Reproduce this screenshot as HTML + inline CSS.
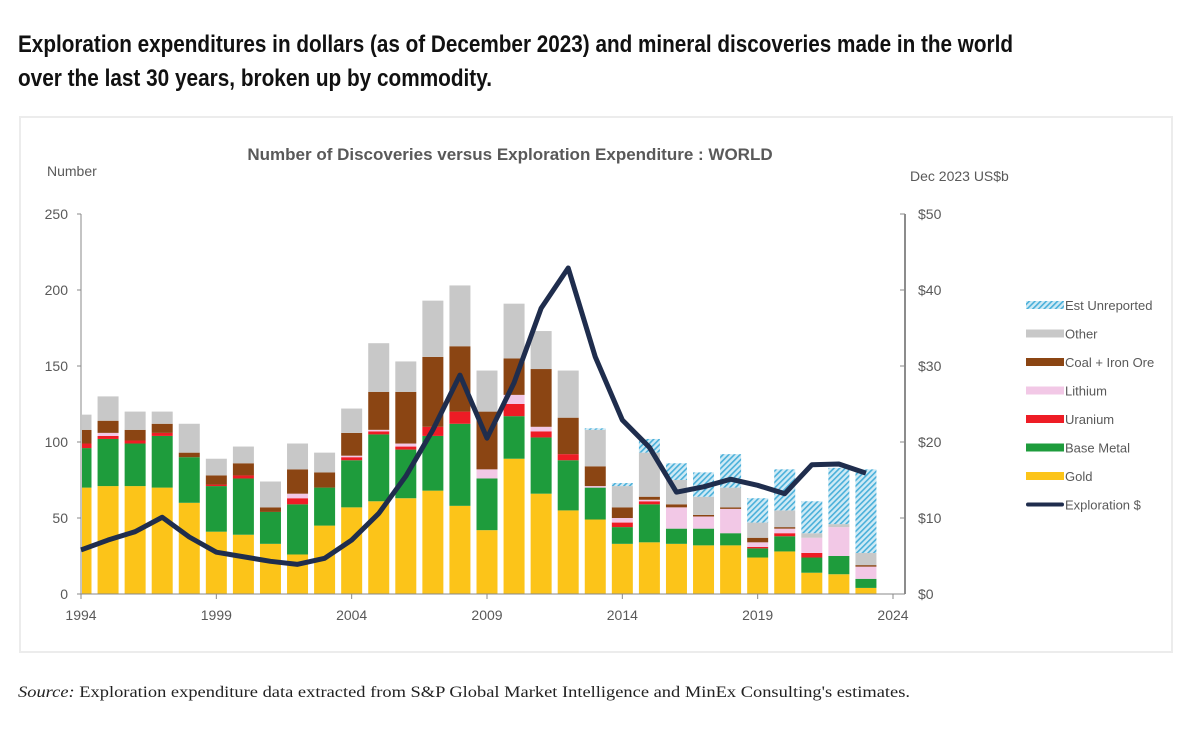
<!DOCTYPE html>
<html><head><meta charset="utf-8"><style>
html,body{margin:0;padding:0;background:#fff;width:1200px;height:735px;overflow:hidden}
svg{display:block}
</style></head><body>
<svg id="chart" width="1200" height="735" xmlns="http://www.w3.org/2000/svg">
<defs>
<pattern id="hatch" width="4" height="4" patternUnits="userSpaceOnUse" patternTransform="rotate(45)">
<rect width="4" height="4" fill="#cfeaf5"/><rect width="1.6" height="4" fill="#4ab0da"/>
</pattern>
</defs>
<text x="18" y="52" font-family="'Liberation Sans Narrow','Liberation Sans',sans-serif" font-weight="bold" font-size="24" textLength="995" lengthAdjust="spacingAndGlyphs" fill="#111">Exploration expenditures in dollars (as of December 2023) and mineral discoveries made in the world</text>
<text x="18" y="86" font-family="'Liberation Sans Narrow','Liberation Sans',sans-serif" font-weight="bold" font-size="24" textLength="474" lengthAdjust="spacingAndGlyphs" fill="#111">over the last 30 years, broken up by commodity.</text>
<rect x="20" y="117" width="1152" height="535" fill="#fff" stroke="#ececec" stroke-width="2"/>
<text x="510" y="160" text-anchor="middle" font-family="'Liberation Sans',sans-serif" font-weight="bold" font-size="17" fill="#595959">Number of Discoveries versus Exploration Expenditure : WORLD</text>
<text x="47" y="176" font-family="'Liberation Sans',sans-serif" font-size="14" fill="#595959">Number</text>
<text x="910" y="181" font-family="'Liberation Sans',sans-serif" font-size="14" fill="#595959">Dec 2023 US$b</text>
<text x="18" y="697" font-family="'Liberation Serif',serif" font-size="16" fill="#222" textLength="892" lengthAdjust="spacingAndGlyphs"><tspan font-style="italic">Source:</tspan> Exploration expenditure data extracted from S&amp;P Global Market Intelligence and MinEx Consulting's estimates.</text>
<g id="plot"></g>
<g id="legend"></g>
</svg>
<script>
const years=[1994,1995,1996,1997,1998,1999,2000,2001,2002,2003,2004,2005,2006,2007,2008,2009,2010,2011,2012,2013,2014,2015,2016,2017,2018,2019,2020,2021,2022,2023];
const gold=[70,71,71,70,60,41,39,33,26,45,57,61,63,68,58,42,89,66,55,49,33,34,33,32,32,24,28,14,13,4];
const baseMetal=[26,31,28,34,30,30,37,21,33,25,31,44,32,36,54,34,28,37,33,21,11,25,10,11,8,6,10,10,12,6];
const uranium=[3,2,2,2,0,1,2,0,4,0,2,2,2,6,8,0,8,4,4,0,3,2,0,0,0,1,2,3,0,0];
const lithium=[0,2,0,0,0,0,0,0,3,0,1,1,2,0,0,6,6,3,0,1,3,1,14,8,16,3,3,10,19,8];
const coalIron=[9,8,7,6,3,6,8,3,16,10,15,25,34,46,43,38,24,38,24,13,7,2,2,1,1,3,1,0,0,1];
const other=[10,16,12,8,19,11,11,17,17,13,16,32,20,37,40,27,36,25,31,24,14,29,16,12,13,10,11,3,2,8];
const estUnreported=[0,0,0,0,0,0,0,0,0,0,0,0,0,0,0,0,0,0,0,1,2,9,11,16,22,16,27,21,37,55];
const exploration=[5.8,7.1,8.2,10.1,7.5,5.5,4.9,4.3,3.9,4.7,7.1,10.6,15.5,21.6,28.8,20.5,27.8,37.6,42.9,31.2,22.9,19.3,13.4,14.1,15.1,14.3,13.2,17.0,17.1,15.9];
const leftTicks=[0,50,100,150,200,250];
const rightTicks=[0,10,20,30,40,50];
const xTicks=[1994,1999,2004,2009,2014,2019,2024];

const NS='http://www.w3.org/2000/svg';
const X0=81,X1=893,Y0=594,Y1=214;
const xs=y=>X0+(y-1994)*(X1-X0)/30;
const yl=v=>Y0-v*(Y0-Y1)/250;
const yr=v=>Y0-v*(Y0-Y1)/50;
const plot=document.getElementById('plot');
function mk(t,a,p){const e=document.createElementNS(NS,t);for(const k in a)e.setAttribute(k,a[k]);(p||plot).appendChild(e);return e;}

const series=[
 ['gold',gold,'#fcc419'],['base-metal',baseMetal,'#1e9c3c'],['uranium',uranium,'#ee1c25'],
 ['lithium',lithium,'#f2c8e6'],['coal-iron-ore',coalIron,'#8b4513'],['other',other,'#c8c8c8'],['est-unreported',estUnreported,'url(#hatch)']];
const bw=21;
years.forEach((yr_,i)=>{
 let acc=0;
 series.forEach(s=>{
  const v=s[1][i]; if(!v) return;
  let x=xs(yr_)-bw/2, w=bw;
  if(x<X0+1){w-= (X0+1-x); x=X0+1;}
  const r=mk('rect',{x:x,y:yl(acc+v),width:w,height:yl(acc)-yl(acc+v),fill:s[2]});
  
  
  acc+=v;
 });
});
let a=mk('line',{x1:X0,y1:Y1,x2:X0,y2:Y0,stroke:'#888','stroke-width':1});


a=mk('line',{x1:905,y1:Y1,x2:905,y2:Y0,stroke:'#666','stroke-width':1.5});


a=mk('line',{x1:X0,y1:Y0,x2:905,y2:Y0,stroke:'#888','stroke-width':1});


leftTicks.forEach(v=>{
 mk('line',{x1:X0-4,y1:yl(v),x2:X0,y2:yl(v),stroke:'#888'});
 const t=mk('text',{x:68,y:yl(v)+5,'text-anchor':'end','font-family':'Liberation Sans,sans-serif','font-size':14,fill:'#595959'});
 t.textContent=v;
 
 
});
rightTicks.forEach(v=>{
 mk('line',{x1:900,y1:yr(v),x2:905,y2:yr(v),stroke:'#888'});
 const t=mk('text',{x:918,y:yr(v)+5,'font-family':'Liberation Sans,sans-serif','font-size':14,fill:'#595959'});
 t.textContent='$'+v;
 
 
});
xTicks.forEach(v=>{
 mk('line',{x1:xs(v),y1:Y0,x2:xs(v),y2:Y0+5,stroke:'#888'});
 const t=mk('text',{x:xs(v),y:620,'text-anchor':'middle','font-family':'Liberation Sans,sans-serif','font-size':14,fill:'#595959'});
 t.textContent=v;
 
 
});
const ln=mk('polyline',{points:years.map((y,i)=>xs(y)+','+yr(exploration[i])).join(' '),fill:'none',stroke:'#1f2d4d','stroke-width':5,'stroke-linejoin':'round'});


const lg=document.getElementById('legend');
const items=[['Est Unreported','url(#hatch)'],['Other','#c8c8c8'],['Coal + Iron Ore','#8b4513'],['Lithium','#f2c8e6'],['Uranium','#ee1c25'],['Base Metal','#1e9c3c'],['Gold','#fcc419'],['Exploration $','#1f2d4d']];
items.forEach((it,i)=>{
 const y=305+i*28.5;
 const g=mk('g',{},lg);
 
 
 if(i===7) mk('rect',{x:1026,y:y-2,width:38,height:4,rx:2,fill:it[1]},g);
 else mk('rect',{x:1026,y:y-4,width:38,height:8,fill:it[1]},g);
 const t=mk('text',{x:1065,y:y+5,'font-family':'Liberation Sans Narrow,Liberation Sans,sans-serif','font-size':13,fill:'#595959'},g);
 t.textContent=it[0];
});
</script>
</body></html>
